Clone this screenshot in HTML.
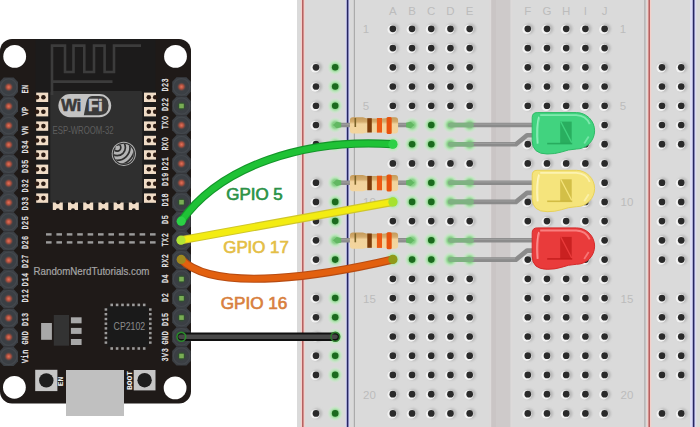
<!DOCTYPE html><html><head><meta charset="utf-8"><style>html,body{margin:0;padding:0;background:#fff;width:700px;height:427px;overflow:hidden}svg{display:block}</style></head><body>
<svg width="700" height="427" viewBox="0 0 700 427" font-family="'Liberation Sans', sans-serif">
<defs>
<linearGradient id="hr" x1="0" y1="0.65" x2="1" y2="0.35"><stop offset="0" stop-color="#ffffff"/><stop offset="0.35" stop-color="#f2f2f2"/><stop offset="0.62" stop-color="#cacaca"/><stop offset="1" stop-color="#ababab"/></linearGradient>
<radialGradient id="hf"><stop offset="0.55" stop-color="#dadada" stop-opacity="0"/><stop offset="1" stop-color="#dadada" stop-opacity="1"/></radialGradient>
<radialGradient id="gg"><stop offset="0.36" stop-color="#86d086"/><stop offset="0.62" stop-color="#b9e5b9" stop-opacity="0.95"/><stop offset="1" stop-color="#d2ecd2" stop-opacity="0"/></radialGradient>
<radialGradient id="pr"><stop offset="0" stop-color="#d87560"/><stop offset="0.3" stop-color="#c85a44"/><stop offset="0.6" stop-color="#86483e"/><stop offset="1" stop-color="#3f4548" stop-opacity="0"/></radialGradient>
<radialGradient id="pg"><stop offset="0.45" stop-color="#2a5326"/><stop offset="1" stop-color="#3b3f44" stop-opacity="0"/></radialGradient>
<filter id="soft" x="-20%" y="-20%" width="140%" height="140%"><feGaussianBlur stdDeviation="0.9"/></filter>
<filter id="soft3" x="-20%" y="-20%" width="140%" height="140%"><feGaussianBlur stdDeviation="0.75"/></filter>
<filter id="soft2" x="-20%" y="-20%" width="140%" height="140%"><feGaussianBlur stdDeviation="0.35"/></filter>
<linearGradient id="resg" x1="0" y1="0" x2="0" y2="1"><stop offset="0" stop-color="#c49a5a"/><stop offset="0.28" stop-color="#d4ac6e"/><stop offset="0.42" stop-color="#f2d39c"/><stop offset="1" stop-color="#f3d59e"/></linearGradient>
</defs>
<rect x="0" y="0" width="700" height="427" fill="#ffffff"/>
<rect x="297" y="0" width="403" height="427" fill="#dadada"/>
<rect x="489.4" y="0" width="23" height="427" fill="#dddada"/>
<rect x="491.4" y="0" width="19" height="427" fill="#cecaca"/>
<rect x="491.4" y="0" width="4.6" height="427" fill="#cac5c5"/>
<rect x="300.8" y="0" width="4" height="427" fill="#f3d0ca"/>
<rect x="302.05" y="0" width="1.5" height="427" fill="#b45c5c"/>
<rect x="647.2" y="0" width="4" height="427" fill="#f3d0ca"/>
<rect x="648.45" y="0" width="1.5" height="427" fill="#b45c5c"/>
<rect x="345.6" y="0" width="4" height="427" fill="#d8d8f6"/>
<rect x="690" y="0" width="6.3" height="427" fill="#dcdcf4"/>
<rect x="346.40000000000003" y="0" width="2.4" height="427" fill="#a8a8d8"/>
<rect x="346.90000000000003" y="0" width="1.4" height="427" fill="#262662"/>
<rect x="692.4" y="0" width="2.4" height="427" fill="#a8a8d8"/>
<rect x="692.9" y="0" width="1.4" height="427" fill="#262662"/>
<rect x="353.79999999999995" y="0" width="1.2" height="427" fill="#ababab"/>
<rect x="644.3" y="0" width="1.2" height="427" fill="#ababab"/>
<circle cx="431.3" cy="125.0" r="8.2" fill="url(#gg)"/><circle cx="431.3" cy="125.0" r="3.3" fill="#1b6a1e"/>
<circle cx="412.1" cy="144.2" r="8.2" fill="url(#gg)"/><circle cx="412.1" cy="144.2" r="3.3" fill="#1b6a1e"/>
<circle cx="431.3" cy="144.2" r="8.2" fill="url(#gg)"/><circle cx="431.3" cy="144.2" r="3.3" fill="#1b6a1e"/>
<circle cx="431.3" cy="182.7" r="8.2" fill="url(#gg)"/><circle cx="431.3" cy="182.7" r="3.3" fill="#1b6a1e"/>
<circle cx="412.1" cy="201.9" r="8.2" fill="url(#gg)"/><circle cx="412.1" cy="201.9" r="3.3" fill="#1b6a1e"/>
<circle cx="431.3" cy="201.9" r="8.2" fill="url(#gg)"/><circle cx="431.3" cy="201.9" r="3.3" fill="#1b6a1e"/>
<circle cx="431.3" cy="240.3" r="8.2" fill="url(#gg)"/><circle cx="431.3" cy="240.3" r="3.3" fill="#1b6a1e"/>
<circle cx="412.1" cy="259.6" r="8.2" fill="url(#gg)"/><circle cx="412.1" cy="259.6" r="3.3" fill="#1b6a1e"/>
<circle cx="431.3" cy="259.6" r="8.2" fill="url(#gg)"/><circle cx="431.3" cy="259.6" r="3.3" fill="#1b6a1e"/>
<circle cx="335.2" cy="67.3" r="8.2" fill="url(#gg)"/><circle cx="335.2" cy="67.3" r="3.3" fill="#1b6a1e"/>
<circle cx="335.2" cy="86.5" r="8.2" fill="url(#gg)"/><circle cx="335.2" cy="86.5" r="3.3" fill="#1b6a1e"/>
<circle cx="335.2" cy="105.8" r="8.2" fill="url(#gg)"/><circle cx="335.2" cy="105.8" r="3.3" fill="#1b6a1e"/>
<circle cx="335.2" cy="201.9" r="8.2" fill="url(#gg)"/><circle cx="335.2" cy="201.9" r="3.3" fill="#1b6a1e"/>
<circle cx="335.2" cy="221.1" r="8.2" fill="url(#gg)"/><circle cx="335.2" cy="221.1" r="3.3" fill="#1b6a1e"/>
<circle cx="335.2" cy="259.6" r="8.2" fill="url(#gg)"/><circle cx="335.2" cy="259.6" r="3.3" fill="#1b6a1e"/>
<circle cx="335.2" cy="298.0" r="8.2" fill="url(#gg)"/><circle cx="335.2" cy="298.0" r="3.3" fill="#1b6a1e"/>
<circle cx="335.2" cy="317.3" r="8.2" fill="url(#gg)"/><circle cx="335.2" cy="317.3" r="3.3" fill="#1b6a1e"/>
<circle cx="335.2" cy="355.7" r="8.2" fill="url(#gg)"/><circle cx="335.2" cy="355.7" r="3.3" fill="#1b6a1e"/>
<circle cx="335.2" cy="374.9" r="8.2" fill="url(#gg)"/><circle cx="335.2" cy="374.9" r="3.3" fill="#1b6a1e"/>
<circle cx="335.2" cy="413.4" r="8.2" fill="url(#gg)"/><circle cx="335.2" cy="413.4" r="3.3" fill="#1b6a1e"/>
<circle cx="335.2" cy="144.2" r="8.2" fill="url(#gg)"/><circle cx="335.2" cy="144.2" r="3.3" fill="#1b6a1e"/>
<circle cx="335.2" cy="336.5" r="8.2" fill="url(#gg)"/>
<g fill="#bababa" filter="url(#soft)"><circle cx="394.0" cy="28.8" r="5.2"/><circle cx="413.2" cy="28.8" r="5.2"/><circle cx="432.4" cy="28.8" r="5.2"/><circle cx="451.6" cy="28.8" r="5.2"/><circle cx="470.8" cy="28.8" r="5.2"/><circle cx="528.9" cy="28.8" r="5.2"/><circle cx="548.1" cy="28.8" r="5.2"/><circle cx="567.3" cy="28.8" r="5.2"/><circle cx="586.5" cy="28.8" r="5.2"/><circle cx="605.7" cy="28.8" r="5.2"/><circle cx="394.0" cy="48.1" r="5.2"/><circle cx="413.2" cy="48.1" r="5.2"/><circle cx="432.4" cy="48.1" r="5.2"/><circle cx="451.6" cy="48.1" r="5.2"/><circle cx="470.8" cy="48.1" r="5.2"/><circle cx="528.9" cy="48.1" r="5.2"/><circle cx="548.1" cy="48.1" r="5.2"/><circle cx="567.3" cy="48.1" r="5.2"/><circle cx="586.5" cy="48.1" r="5.2"/><circle cx="605.7" cy="48.1" r="5.2"/><circle cx="394.0" cy="67.3" r="5.2"/><circle cx="413.2" cy="67.3" r="5.2"/><circle cx="432.4" cy="67.3" r="5.2"/><circle cx="451.6" cy="67.3" r="5.2"/><circle cx="470.8" cy="67.3" r="5.2"/><circle cx="528.9" cy="67.3" r="5.2"/><circle cx="548.1" cy="67.3" r="5.2"/><circle cx="567.3" cy="67.3" r="5.2"/><circle cx="586.5" cy="67.3" r="5.2"/><circle cx="605.7" cy="67.3" r="5.2"/><circle cx="394.0" cy="86.5" r="5.2"/><circle cx="413.2" cy="86.5" r="5.2"/><circle cx="432.4" cy="86.5" r="5.2"/><circle cx="451.6" cy="86.5" r="5.2"/><circle cx="470.8" cy="86.5" r="5.2"/><circle cx="528.9" cy="86.5" r="5.2"/><circle cx="548.1" cy="86.5" r="5.2"/><circle cx="567.3" cy="86.5" r="5.2"/><circle cx="586.5" cy="86.5" r="5.2"/><circle cx="605.7" cy="86.5" r="5.2"/><circle cx="394.0" cy="105.8" r="5.2"/><circle cx="413.2" cy="105.8" r="5.2"/><circle cx="432.4" cy="105.8" r="5.2"/><circle cx="451.6" cy="105.8" r="5.2"/><circle cx="470.8" cy="105.8" r="5.2"/><circle cx="528.9" cy="105.8" r="5.2"/><circle cx="548.1" cy="105.8" r="5.2"/><circle cx="567.3" cy="105.8" r="5.2"/><circle cx="586.5" cy="105.8" r="5.2"/><circle cx="605.7" cy="105.8" r="5.2"/><circle cx="548.1" cy="125.0" r="5.2"/><circle cx="567.3" cy="125.0" r="5.2"/><circle cx="586.5" cy="125.0" r="5.2"/><circle cx="605.7" cy="125.0" r="5.2"/><circle cx="528.9" cy="144.2" r="5.2"/><circle cx="548.1" cy="144.2" r="5.2"/><circle cx="567.3" cy="144.2" r="5.2"/><circle cx="586.5" cy="144.2" r="5.2"/><circle cx="605.7" cy="144.2" r="5.2"/><circle cx="394.0" cy="163.4" r="5.2"/><circle cx="413.2" cy="163.4" r="5.2"/><circle cx="432.4" cy="163.4" r="5.2"/><circle cx="451.6" cy="163.4" r="5.2"/><circle cx="470.8" cy="163.4" r="5.2"/><circle cx="528.9" cy="163.4" r="5.2"/><circle cx="548.1" cy="163.4" r="5.2"/><circle cx="567.3" cy="163.4" r="5.2"/><circle cx="586.5" cy="163.4" r="5.2"/><circle cx="605.7" cy="163.4" r="5.2"/><circle cx="548.1" cy="182.7" r="5.2"/><circle cx="567.3" cy="182.7" r="5.2"/><circle cx="586.5" cy="182.7" r="5.2"/><circle cx="605.7" cy="182.7" r="5.2"/><circle cx="528.9" cy="201.9" r="5.2"/><circle cx="548.1" cy="201.9" r="5.2"/><circle cx="567.3" cy="201.9" r="5.2"/><circle cx="586.5" cy="201.9" r="5.2"/><circle cx="605.7" cy="201.9" r="5.2"/><circle cx="394.0" cy="221.1" r="5.2"/><circle cx="413.2" cy="221.1" r="5.2"/><circle cx="432.4" cy="221.1" r="5.2"/><circle cx="451.6" cy="221.1" r="5.2"/><circle cx="470.8" cy="221.1" r="5.2"/><circle cx="528.9" cy="221.1" r="5.2"/><circle cx="548.1" cy="221.1" r="5.2"/><circle cx="567.3" cy="221.1" r="5.2"/><circle cx="586.5" cy="221.1" r="5.2"/><circle cx="605.7" cy="221.1" r="5.2"/><circle cx="548.1" cy="240.3" r="5.2"/><circle cx="567.3" cy="240.3" r="5.2"/><circle cx="586.5" cy="240.3" r="5.2"/><circle cx="605.7" cy="240.3" r="5.2"/><circle cx="528.9" cy="259.6" r="5.2"/><circle cx="548.1" cy="259.6" r="5.2"/><circle cx="567.3" cy="259.6" r="5.2"/><circle cx="586.5" cy="259.6" r="5.2"/><circle cx="605.7" cy="259.6" r="5.2"/><circle cx="394.0" cy="278.8" r="5.2"/><circle cx="413.2" cy="278.8" r="5.2"/><circle cx="432.4" cy="278.8" r="5.2"/><circle cx="451.6" cy="278.8" r="5.2"/><circle cx="470.8" cy="278.8" r="5.2"/><circle cx="528.9" cy="278.8" r="5.2"/><circle cx="548.1" cy="278.8" r="5.2"/><circle cx="567.3" cy="278.8" r="5.2"/><circle cx="586.5" cy="278.8" r="5.2"/><circle cx="605.7" cy="278.8" r="5.2"/><circle cx="394.0" cy="298.0" r="5.2"/><circle cx="413.2" cy="298.0" r="5.2"/><circle cx="432.4" cy="298.0" r="5.2"/><circle cx="451.6" cy="298.0" r="5.2"/><circle cx="470.8" cy="298.0" r="5.2"/><circle cx="528.9" cy="298.0" r="5.2"/><circle cx="548.1" cy="298.0" r="5.2"/><circle cx="567.3" cy="298.0" r="5.2"/><circle cx="586.5" cy="298.0" r="5.2"/><circle cx="605.7" cy="298.0" r="5.2"/><circle cx="394.0" cy="317.3" r="5.2"/><circle cx="413.2" cy="317.3" r="5.2"/><circle cx="432.4" cy="317.3" r="5.2"/><circle cx="451.6" cy="317.3" r="5.2"/><circle cx="470.8" cy="317.3" r="5.2"/><circle cx="528.9" cy="317.3" r="5.2"/><circle cx="548.1" cy="317.3" r="5.2"/><circle cx="567.3" cy="317.3" r="5.2"/><circle cx="586.5" cy="317.3" r="5.2"/><circle cx="605.7" cy="317.3" r="5.2"/><circle cx="394.0" cy="336.5" r="5.2"/><circle cx="413.2" cy="336.5" r="5.2"/><circle cx="432.4" cy="336.5" r="5.2"/><circle cx="451.6" cy="336.5" r="5.2"/><circle cx="470.8" cy="336.5" r="5.2"/><circle cx="528.9" cy="336.5" r="5.2"/><circle cx="548.1" cy="336.5" r="5.2"/><circle cx="567.3" cy="336.5" r="5.2"/><circle cx="586.5" cy="336.5" r="5.2"/><circle cx="605.7" cy="336.5" r="5.2"/><circle cx="394.0" cy="355.7" r="5.2"/><circle cx="413.2" cy="355.7" r="5.2"/><circle cx="432.4" cy="355.7" r="5.2"/><circle cx="451.6" cy="355.7" r="5.2"/><circle cx="470.8" cy="355.7" r="5.2"/><circle cx="528.9" cy="355.7" r="5.2"/><circle cx="548.1" cy="355.7" r="5.2"/><circle cx="567.3" cy="355.7" r="5.2"/><circle cx="586.5" cy="355.7" r="5.2"/><circle cx="605.7" cy="355.7" r="5.2"/><circle cx="394.0" cy="374.9" r="5.2"/><circle cx="413.2" cy="374.9" r="5.2"/><circle cx="432.4" cy="374.9" r="5.2"/><circle cx="451.6" cy="374.9" r="5.2"/><circle cx="470.8" cy="374.9" r="5.2"/><circle cx="528.9" cy="374.9" r="5.2"/><circle cx="548.1" cy="374.9" r="5.2"/><circle cx="567.3" cy="374.9" r="5.2"/><circle cx="586.5" cy="374.9" r="5.2"/><circle cx="605.7" cy="374.9" r="5.2"/><circle cx="394.0" cy="394.2" r="5.2"/><circle cx="413.2" cy="394.2" r="5.2"/><circle cx="432.4" cy="394.2" r="5.2"/><circle cx="451.6" cy="394.2" r="5.2"/><circle cx="470.8" cy="394.2" r="5.2"/><circle cx="528.9" cy="394.2" r="5.2"/><circle cx="548.1" cy="394.2" r="5.2"/><circle cx="567.3" cy="394.2" r="5.2"/><circle cx="586.5" cy="394.2" r="5.2"/><circle cx="605.7" cy="394.2" r="5.2"/><circle cx="394.0" cy="413.4" r="5.2"/><circle cx="413.2" cy="413.4" r="5.2"/><circle cx="432.4" cy="413.4" r="5.2"/><circle cx="451.6" cy="413.4" r="5.2"/><circle cx="470.8" cy="413.4" r="5.2"/><circle cx="528.9" cy="413.4" r="5.2"/><circle cx="548.1" cy="413.4" r="5.2"/><circle cx="567.3" cy="413.4" r="5.2"/><circle cx="586.5" cy="413.4" r="5.2"/><circle cx="605.7" cy="413.4" r="5.2"/><circle cx="317.1" cy="67.3" r="5.2"/><circle cx="663.1" cy="67.3" r="5.2"/><circle cx="682.4" cy="67.3" r="5.2"/><circle cx="317.1" cy="86.5" r="5.2"/><circle cx="663.1" cy="86.5" r="5.2"/><circle cx="682.4" cy="86.5" r="5.2"/><circle cx="317.1" cy="105.8" r="5.2"/><circle cx="663.1" cy="105.8" r="5.2"/><circle cx="682.4" cy="105.8" r="5.2"/><circle cx="317.1" cy="125.0" r="5.2"/><circle cx="663.1" cy="125.0" r="5.2"/><circle cx="682.4" cy="125.0" r="5.2"/><circle cx="317.1" cy="144.2" r="5.2"/><circle cx="663.1" cy="144.2" r="5.2"/><circle cx="682.4" cy="144.2" r="5.2"/><circle cx="317.1" cy="182.7" r="5.2"/><circle cx="663.1" cy="182.7" r="5.2"/><circle cx="682.4" cy="182.7" r="5.2"/><circle cx="317.1" cy="201.9" r="5.2"/><circle cx="663.1" cy="201.9" r="5.2"/><circle cx="682.4" cy="201.9" r="5.2"/><circle cx="317.1" cy="221.1" r="5.2"/><circle cx="663.1" cy="221.1" r="5.2"/><circle cx="682.4" cy="221.1" r="5.2"/><circle cx="317.1" cy="240.3" r="5.2"/><circle cx="663.1" cy="240.3" r="5.2"/><circle cx="682.4" cy="240.3" r="5.2"/><circle cx="317.1" cy="259.6" r="5.2"/><circle cx="663.1" cy="259.6" r="5.2"/><circle cx="682.4" cy="259.6" r="5.2"/><circle cx="317.1" cy="298.0" r="5.2"/><circle cx="663.1" cy="298.0" r="5.2"/><circle cx="682.4" cy="298.0" r="5.2"/><circle cx="317.1" cy="317.3" r="5.2"/><circle cx="663.1" cy="317.3" r="5.2"/><circle cx="682.4" cy="317.3" r="5.2"/><circle cx="317.1" cy="336.5" r="5.2"/><circle cx="663.1" cy="336.5" r="5.2"/><circle cx="682.4" cy="336.5" r="5.2"/><circle cx="317.1" cy="355.7" r="5.2"/><circle cx="663.1" cy="355.7" r="5.2"/><circle cx="682.4" cy="355.7" r="5.2"/><circle cx="317.1" cy="374.9" r="5.2"/><circle cx="663.1" cy="374.9" r="5.2"/><circle cx="682.4" cy="374.9" r="5.2"/><circle cx="317.1" cy="413.4" r="5.2"/><circle cx="663.1" cy="413.4" r="5.2"/><circle cx="682.4" cy="413.4" r="5.2"/></g>
<g fill="#f3f3f3" filter="url(#soft3)"><circle cx="392.0" cy="29.4" r="4.6"/><circle cx="411.2" cy="29.4" r="4.6"/><circle cx="430.4" cy="29.4" r="4.6"/><circle cx="449.6" cy="29.4" r="4.6"/><circle cx="468.8" cy="29.4" r="4.6"/><circle cx="526.9" cy="29.4" r="4.6"/><circle cx="546.1" cy="29.4" r="4.6"/><circle cx="565.3" cy="29.4" r="4.6"/><circle cx="584.5" cy="29.4" r="4.6"/><circle cx="603.7" cy="29.4" r="4.6"/><circle cx="392.0" cy="48.7" r="4.6"/><circle cx="411.2" cy="48.7" r="4.6"/><circle cx="430.4" cy="48.7" r="4.6"/><circle cx="449.6" cy="48.7" r="4.6"/><circle cx="468.8" cy="48.7" r="4.6"/><circle cx="526.9" cy="48.7" r="4.6"/><circle cx="546.1" cy="48.7" r="4.6"/><circle cx="565.3" cy="48.7" r="4.6"/><circle cx="584.5" cy="48.7" r="4.6"/><circle cx="603.7" cy="48.7" r="4.6"/><circle cx="392.0" cy="67.9" r="4.6"/><circle cx="411.2" cy="67.9" r="4.6"/><circle cx="430.4" cy="67.9" r="4.6"/><circle cx="449.6" cy="67.9" r="4.6"/><circle cx="468.8" cy="67.9" r="4.6"/><circle cx="526.9" cy="67.9" r="4.6"/><circle cx="546.1" cy="67.9" r="4.6"/><circle cx="565.3" cy="67.9" r="4.6"/><circle cx="584.5" cy="67.9" r="4.6"/><circle cx="603.7" cy="67.9" r="4.6"/><circle cx="392.0" cy="87.1" r="4.6"/><circle cx="411.2" cy="87.1" r="4.6"/><circle cx="430.4" cy="87.1" r="4.6"/><circle cx="449.6" cy="87.1" r="4.6"/><circle cx="468.8" cy="87.1" r="4.6"/><circle cx="526.9" cy="87.1" r="4.6"/><circle cx="546.1" cy="87.1" r="4.6"/><circle cx="565.3" cy="87.1" r="4.6"/><circle cx="584.5" cy="87.1" r="4.6"/><circle cx="603.7" cy="87.1" r="4.6"/><circle cx="392.0" cy="106.4" r="4.6"/><circle cx="411.2" cy="106.4" r="4.6"/><circle cx="430.4" cy="106.4" r="4.6"/><circle cx="449.6" cy="106.4" r="4.6"/><circle cx="468.8" cy="106.4" r="4.6"/><circle cx="526.9" cy="106.4" r="4.6"/><circle cx="546.1" cy="106.4" r="4.6"/><circle cx="565.3" cy="106.4" r="4.6"/><circle cx="584.5" cy="106.4" r="4.6"/><circle cx="603.7" cy="106.4" r="4.6"/><circle cx="546.1" cy="125.6" r="4.6"/><circle cx="565.3" cy="125.6" r="4.6"/><circle cx="584.5" cy="125.6" r="4.6"/><circle cx="603.7" cy="125.6" r="4.6"/><circle cx="526.9" cy="144.8" r="4.6"/><circle cx="546.1" cy="144.8" r="4.6"/><circle cx="565.3" cy="144.8" r="4.6"/><circle cx="584.5" cy="144.8" r="4.6"/><circle cx="603.7" cy="144.8" r="4.6"/><circle cx="392.0" cy="164.0" r="4.6"/><circle cx="411.2" cy="164.0" r="4.6"/><circle cx="430.4" cy="164.0" r="4.6"/><circle cx="449.6" cy="164.0" r="4.6"/><circle cx="468.8" cy="164.0" r="4.6"/><circle cx="526.9" cy="164.0" r="4.6"/><circle cx="546.1" cy="164.0" r="4.6"/><circle cx="565.3" cy="164.0" r="4.6"/><circle cx="584.5" cy="164.0" r="4.6"/><circle cx="603.7" cy="164.0" r="4.6"/><circle cx="546.1" cy="183.3" r="4.6"/><circle cx="565.3" cy="183.3" r="4.6"/><circle cx="584.5" cy="183.3" r="4.6"/><circle cx="603.7" cy="183.3" r="4.6"/><circle cx="526.9" cy="202.5" r="4.6"/><circle cx="546.1" cy="202.5" r="4.6"/><circle cx="565.3" cy="202.5" r="4.6"/><circle cx="584.5" cy="202.5" r="4.6"/><circle cx="603.7" cy="202.5" r="4.6"/><circle cx="392.0" cy="221.7" r="4.6"/><circle cx="411.2" cy="221.7" r="4.6"/><circle cx="430.4" cy="221.7" r="4.6"/><circle cx="449.6" cy="221.7" r="4.6"/><circle cx="468.8" cy="221.7" r="4.6"/><circle cx="526.9" cy="221.7" r="4.6"/><circle cx="546.1" cy="221.7" r="4.6"/><circle cx="565.3" cy="221.7" r="4.6"/><circle cx="584.5" cy="221.7" r="4.6"/><circle cx="603.7" cy="221.7" r="4.6"/><circle cx="546.1" cy="240.9" r="4.6"/><circle cx="565.3" cy="240.9" r="4.6"/><circle cx="584.5" cy="240.9" r="4.6"/><circle cx="603.7" cy="240.9" r="4.6"/><circle cx="526.9" cy="260.2" r="4.6"/><circle cx="546.1" cy="260.2" r="4.6"/><circle cx="565.3" cy="260.2" r="4.6"/><circle cx="584.5" cy="260.2" r="4.6"/><circle cx="603.7" cy="260.2" r="4.6"/><circle cx="392.0" cy="279.4" r="4.6"/><circle cx="411.2" cy="279.4" r="4.6"/><circle cx="430.4" cy="279.4" r="4.6"/><circle cx="449.6" cy="279.4" r="4.6"/><circle cx="468.8" cy="279.4" r="4.6"/><circle cx="526.9" cy="279.4" r="4.6"/><circle cx="546.1" cy="279.4" r="4.6"/><circle cx="565.3" cy="279.4" r="4.6"/><circle cx="584.5" cy="279.4" r="4.6"/><circle cx="603.7" cy="279.4" r="4.6"/><circle cx="392.0" cy="298.6" r="4.6"/><circle cx="411.2" cy="298.6" r="4.6"/><circle cx="430.4" cy="298.6" r="4.6"/><circle cx="449.6" cy="298.6" r="4.6"/><circle cx="468.8" cy="298.6" r="4.6"/><circle cx="526.9" cy="298.6" r="4.6"/><circle cx="546.1" cy="298.6" r="4.6"/><circle cx="565.3" cy="298.6" r="4.6"/><circle cx="584.5" cy="298.6" r="4.6"/><circle cx="603.7" cy="298.6" r="4.6"/><circle cx="392.0" cy="317.9" r="4.6"/><circle cx="411.2" cy="317.9" r="4.6"/><circle cx="430.4" cy="317.9" r="4.6"/><circle cx="449.6" cy="317.9" r="4.6"/><circle cx="468.8" cy="317.9" r="4.6"/><circle cx="526.9" cy="317.9" r="4.6"/><circle cx="546.1" cy="317.9" r="4.6"/><circle cx="565.3" cy="317.9" r="4.6"/><circle cx="584.5" cy="317.9" r="4.6"/><circle cx="603.7" cy="317.9" r="4.6"/><circle cx="392.0" cy="337.1" r="4.6"/><circle cx="411.2" cy="337.1" r="4.6"/><circle cx="430.4" cy="337.1" r="4.6"/><circle cx="449.6" cy="337.1" r="4.6"/><circle cx="468.8" cy="337.1" r="4.6"/><circle cx="526.9" cy="337.1" r="4.6"/><circle cx="546.1" cy="337.1" r="4.6"/><circle cx="565.3" cy="337.1" r="4.6"/><circle cx="584.5" cy="337.1" r="4.6"/><circle cx="603.7" cy="337.1" r="4.6"/><circle cx="392.0" cy="356.3" r="4.6"/><circle cx="411.2" cy="356.3" r="4.6"/><circle cx="430.4" cy="356.3" r="4.6"/><circle cx="449.6" cy="356.3" r="4.6"/><circle cx="468.8" cy="356.3" r="4.6"/><circle cx="526.9" cy="356.3" r="4.6"/><circle cx="546.1" cy="356.3" r="4.6"/><circle cx="565.3" cy="356.3" r="4.6"/><circle cx="584.5" cy="356.3" r="4.6"/><circle cx="603.7" cy="356.3" r="4.6"/><circle cx="392.0" cy="375.5" r="4.6"/><circle cx="411.2" cy="375.5" r="4.6"/><circle cx="430.4" cy="375.5" r="4.6"/><circle cx="449.6" cy="375.5" r="4.6"/><circle cx="468.8" cy="375.5" r="4.6"/><circle cx="526.9" cy="375.5" r="4.6"/><circle cx="546.1" cy="375.5" r="4.6"/><circle cx="565.3" cy="375.5" r="4.6"/><circle cx="584.5" cy="375.5" r="4.6"/><circle cx="603.7" cy="375.5" r="4.6"/><circle cx="392.0" cy="394.8" r="4.6"/><circle cx="411.2" cy="394.8" r="4.6"/><circle cx="430.4" cy="394.8" r="4.6"/><circle cx="449.6" cy="394.8" r="4.6"/><circle cx="468.8" cy="394.8" r="4.6"/><circle cx="526.9" cy="394.8" r="4.6"/><circle cx="546.1" cy="394.8" r="4.6"/><circle cx="565.3" cy="394.8" r="4.6"/><circle cx="584.5" cy="394.8" r="4.6"/><circle cx="603.7" cy="394.8" r="4.6"/><circle cx="392.0" cy="414.0" r="4.6"/><circle cx="411.2" cy="414.0" r="4.6"/><circle cx="430.4" cy="414.0" r="4.6"/><circle cx="449.6" cy="414.0" r="4.6"/><circle cx="468.8" cy="414.0" r="4.6"/><circle cx="526.9" cy="414.0" r="4.6"/><circle cx="546.1" cy="414.0" r="4.6"/><circle cx="565.3" cy="414.0" r="4.6"/><circle cx="584.5" cy="414.0" r="4.6"/><circle cx="603.7" cy="414.0" r="4.6"/><circle cx="315.1" cy="67.9" r="4.6"/><circle cx="661.1" cy="67.9" r="4.6"/><circle cx="680.4" cy="67.9" r="4.6"/><circle cx="315.1" cy="87.1" r="4.6"/><circle cx="661.1" cy="87.1" r="4.6"/><circle cx="680.4" cy="87.1" r="4.6"/><circle cx="315.1" cy="106.4" r="4.6"/><circle cx="661.1" cy="106.4" r="4.6"/><circle cx="680.4" cy="106.4" r="4.6"/><circle cx="315.1" cy="125.6" r="4.6"/><circle cx="661.1" cy="125.6" r="4.6"/><circle cx="680.4" cy="125.6" r="4.6"/><circle cx="315.1" cy="144.8" r="4.6"/><circle cx="661.1" cy="144.8" r="4.6"/><circle cx="680.4" cy="144.8" r="4.6"/><circle cx="315.1" cy="183.3" r="4.6"/><circle cx="661.1" cy="183.3" r="4.6"/><circle cx="680.4" cy="183.3" r="4.6"/><circle cx="315.1" cy="202.5" r="4.6"/><circle cx="661.1" cy="202.5" r="4.6"/><circle cx="680.4" cy="202.5" r="4.6"/><circle cx="315.1" cy="221.7" r="4.6"/><circle cx="661.1" cy="221.7" r="4.6"/><circle cx="680.4" cy="221.7" r="4.6"/><circle cx="315.1" cy="240.9" r="4.6"/><circle cx="661.1" cy="240.9" r="4.6"/><circle cx="680.4" cy="240.9" r="4.6"/><circle cx="315.1" cy="260.2" r="4.6"/><circle cx="661.1" cy="260.2" r="4.6"/><circle cx="680.4" cy="260.2" r="4.6"/><circle cx="315.1" cy="298.6" r="4.6"/><circle cx="661.1" cy="298.6" r="4.6"/><circle cx="680.4" cy="298.6" r="4.6"/><circle cx="315.1" cy="317.9" r="4.6"/><circle cx="661.1" cy="317.9" r="4.6"/><circle cx="680.4" cy="317.9" r="4.6"/><circle cx="315.1" cy="337.1" r="4.6"/><circle cx="661.1" cy="337.1" r="4.6"/><circle cx="680.4" cy="337.1" r="4.6"/><circle cx="315.1" cy="356.3" r="4.6"/><circle cx="661.1" cy="356.3" r="4.6"/><circle cx="680.4" cy="356.3" r="4.6"/><circle cx="315.1" cy="375.5" r="4.6"/><circle cx="661.1" cy="375.5" r="4.6"/><circle cx="680.4" cy="375.5" r="4.6"/><circle cx="315.1" cy="414.0" r="4.6"/><circle cx="661.1" cy="414.0" r="4.6"/><circle cx="680.4" cy="414.0" r="4.6"/></g>
<g fill="#2c2c2c" filter="url(#soft2)"><circle cx="392.85" cy="28.84" r="3.35"/><circle cx="412.06" cy="28.84" r="3.35"/><circle cx="431.27" cy="28.84" r="3.35"/><circle cx="450.48" cy="28.84" r="3.35"/><circle cx="469.69" cy="28.84" r="3.35"/><circle cx="527.80" cy="28.84" r="3.35"/><circle cx="547.01" cy="28.84" r="3.35"/><circle cx="566.22" cy="28.84" r="3.35"/><circle cx="585.43" cy="28.84" r="3.35"/><circle cx="604.64" cy="28.84" r="3.35"/><circle cx="392.85" cy="48.07" r="3.35"/><circle cx="412.06" cy="48.07" r="3.35"/><circle cx="431.27" cy="48.07" r="3.35"/><circle cx="450.48" cy="48.07" r="3.35"/><circle cx="469.69" cy="48.07" r="3.35"/><circle cx="527.80" cy="48.07" r="3.35"/><circle cx="547.01" cy="48.07" r="3.35"/><circle cx="566.22" cy="48.07" r="3.35"/><circle cx="585.43" cy="48.07" r="3.35"/><circle cx="604.64" cy="48.07" r="3.35"/><circle cx="392.85" cy="67.30" r="3.35"/><circle cx="412.06" cy="67.30" r="3.35"/><circle cx="431.27" cy="67.30" r="3.35"/><circle cx="450.48" cy="67.30" r="3.35"/><circle cx="469.69" cy="67.30" r="3.35"/><circle cx="527.80" cy="67.30" r="3.35"/><circle cx="547.01" cy="67.30" r="3.35"/><circle cx="566.22" cy="67.30" r="3.35"/><circle cx="585.43" cy="67.30" r="3.35"/><circle cx="604.64" cy="67.30" r="3.35"/><circle cx="392.85" cy="86.52" r="3.35"/><circle cx="412.06" cy="86.52" r="3.35"/><circle cx="431.27" cy="86.52" r="3.35"/><circle cx="450.48" cy="86.52" r="3.35"/><circle cx="469.69" cy="86.52" r="3.35"/><circle cx="527.80" cy="86.52" r="3.35"/><circle cx="547.01" cy="86.52" r="3.35"/><circle cx="566.22" cy="86.52" r="3.35"/><circle cx="585.43" cy="86.52" r="3.35"/><circle cx="604.64" cy="86.52" r="3.35"/><circle cx="392.85" cy="105.75" r="3.35"/><circle cx="412.06" cy="105.75" r="3.35"/><circle cx="431.27" cy="105.75" r="3.35"/><circle cx="450.48" cy="105.75" r="3.35"/><circle cx="469.69" cy="105.75" r="3.35"/><circle cx="527.80" cy="105.75" r="3.35"/><circle cx="547.01" cy="105.75" r="3.35"/><circle cx="566.22" cy="105.75" r="3.35"/><circle cx="585.43" cy="105.75" r="3.35"/><circle cx="604.64" cy="105.75" r="3.35"/><circle cx="547.01" cy="124.98" r="3.35"/><circle cx="566.22" cy="124.98" r="3.35"/><circle cx="585.43" cy="124.98" r="3.35"/><circle cx="604.64" cy="124.98" r="3.35"/><circle cx="527.80" cy="144.21" r="3.35"/><circle cx="547.01" cy="144.21" r="3.35"/><circle cx="566.22" cy="144.21" r="3.35"/><circle cx="585.43" cy="144.21" r="3.35"/><circle cx="604.64" cy="144.21" r="3.35"/><circle cx="392.85" cy="163.44" r="3.35"/><circle cx="412.06" cy="163.44" r="3.35"/><circle cx="431.27" cy="163.44" r="3.35"/><circle cx="450.48" cy="163.44" r="3.35"/><circle cx="469.69" cy="163.44" r="3.35"/><circle cx="527.80" cy="163.44" r="3.35"/><circle cx="547.01" cy="163.44" r="3.35"/><circle cx="566.22" cy="163.44" r="3.35"/><circle cx="585.43" cy="163.44" r="3.35"/><circle cx="604.64" cy="163.44" r="3.35"/><circle cx="547.01" cy="182.66" r="3.35"/><circle cx="566.22" cy="182.66" r="3.35"/><circle cx="585.43" cy="182.66" r="3.35"/><circle cx="604.64" cy="182.66" r="3.35"/><circle cx="527.80" cy="201.89" r="3.35"/><circle cx="547.01" cy="201.89" r="3.35"/><circle cx="566.22" cy="201.89" r="3.35"/><circle cx="585.43" cy="201.89" r="3.35"/><circle cx="604.64" cy="201.89" r="3.35"/><circle cx="392.85" cy="221.12" r="3.35"/><circle cx="412.06" cy="221.12" r="3.35"/><circle cx="431.27" cy="221.12" r="3.35"/><circle cx="450.48" cy="221.12" r="3.35"/><circle cx="469.69" cy="221.12" r="3.35"/><circle cx="527.80" cy="221.12" r="3.35"/><circle cx="547.01" cy="221.12" r="3.35"/><circle cx="566.22" cy="221.12" r="3.35"/><circle cx="585.43" cy="221.12" r="3.35"/><circle cx="604.64" cy="221.12" r="3.35"/><circle cx="547.01" cy="240.35" r="3.35"/><circle cx="566.22" cy="240.35" r="3.35"/><circle cx="585.43" cy="240.35" r="3.35"/><circle cx="604.64" cy="240.35" r="3.35"/><circle cx="527.80" cy="259.58" r="3.35"/><circle cx="547.01" cy="259.58" r="3.35"/><circle cx="566.22" cy="259.58" r="3.35"/><circle cx="585.43" cy="259.58" r="3.35"/><circle cx="604.64" cy="259.58" r="3.35"/><circle cx="392.85" cy="278.80" r="3.35"/><circle cx="412.06" cy="278.80" r="3.35"/><circle cx="431.27" cy="278.80" r="3.35"/><circle cx="450.48" cy="278.80" r="3.35"/><circle cx="469.69" cy="278.80" r="3.35"/><circle cx="527.80" cy="278.80" r="3.35"/><circle cx="547.01" cy="278.80" r="3.35"/><circle cx="566.22" cy="278.80" r="3.35"/><circle cx="585.43" cy="278.80" r="3.35"/><circle cx="604.64" cy="278.80" r="3.35"/><circle cx="392.85" cy="298.03" r="3.35"/><circle cx="412.06" cy="298.03" r="3.35"/><circle cx="431.27" cy="298.03" r="3.35"/><circle cx="450.48" cy="298.03" r="3.35"/><circle cx="469.69" cy="298.03" r="3.35"/><circle cx="527.80" cy="298.03" r="3.35"/><circle cx="547.01" cy="298.03" r="3.35"/><circle cx="566.22" cy="298.03" r="3.35"/><circle cx="585.43" cy="298.03" r="3.35"/><circle cx="604.64" cy="298.03" r="3.35"/><circle cx="392.85" cy="317.26" r="3.35"/><circle cx="412.06" cy="317.26" r="3.35"/><circle cx="431.27" cy="317.26" r="3.35"/><circle cx="450.48" cy="317.26" r="3.35"/><circle cx="469.69" cy="317.26" r="3.35"/><circle cx="527.80" cy="317.26" r="3.35"/><circle cx="547.01" cy="317.26" r="3.35"/><circle cx="566.22" cy="317.26" r="3.35"/><circle cx="585.43" cy="317.26" r="3.35"/><circle cx="604.64" cy="317.26" r="3.35"/><circle cx="392.85" cy="336.49" r="3.35"/><circle cx="412.06" cy="336.49" r="3.35"/><circle cx="431.27" cy="336.49" r="3.35"/><circle cx="450.48" cy="336.49" r="3.35"/><circle cx="469.69" cy="336.49" r="3.35"/><circle cx="527.80" cy="336.49" r="3.35"/><circle cx="547.01" cy="336.49" r="3.35"/><circle cx="566.22" cy="336.49" r="3.35"/><circle cx="585.43" cy="336.49" r="3.35"/><circle cx="604.64" cy="336.49" r="3.35"/><circle cx="392.85" cy="355.72" r="3.35"/><circle cx="412.06" cy="355.72" r="3.35"/><circle cx="431.27" cy="355.72" r="3.35"/><circle cx="450.48" cy="355.72" r="3.35"/><circle cx="469.69" cy="355.72" r="3.35"/><circle cx="527.80" cy="355.72" r="3.35"/><circle cx="547.01" cy="355.72" r="3.35"/><circle cx="566.22" cy="355.72" r="3.35"/><circle cx="585.43" cy="355.72" r="3.35"/><circle cx="604.64" cy="355.72" r="3.35"/><circle cx="392.85" cy="374.94" r="3.35"/><circle cx="412.06" cy="374.94" r="3.35"/><circle cx="431.27" cy="374.94" r="3.35"/><circle cx="450.48" cy="374.94" r="3.35"/><circle cx="469.69" cy="374.94" r="3.35"/><circle cx="527.80" cy="374.94" r="3.35"/><circle cx="547.01" cy="374.94" r="3.35"/><circle cx="566.22" cy="374.94" r="3.35"/><circle cx="585.43" cy="374.94" r="3.35"/><circle cx="604.64" cy="374.94" r="3.35"/><circle cx="392.85" cy="394.17" r="3.35"/><circle cx="412.06" cy="394.17" r="3.35"/><circle cx="431.27" cy="394.17" r="3.35"/><circle cx="450.48" cy="394.17" r="3.35"/><circle cx="469.69" cy="394.17" r="3.35"/><circle cx="527.80" cy="394.17" r="3.35"/><circle cx="547.01" cy="394.17" r="3.35"/><circle cx="566.22" cy="394.17" r="3.35"/><circle cx="585.43" cy="394.17" r="3.35"/><circle cx="604.64" cy="394.17" r="3.35"/><circle cx="392.85" cy="413.40" r="3.35"/><circle cx="412.06" cy="413.40" r="3.35"/><circle cx="431.27" cy="413.40" r="3.35"/><circle cx="450.48" cy="413.40" r="3.35"/><circle cx="469.69" cy="413.40" r="3.35"/><circle cx="527.80" cy="413.40" r="3.35"/><circle cx="547.01" cy="413.40" r="3.35"/><circle cx="566.22" cy="413.40" r="3.35"/><circle cx="585.43" cy="413.40" r="3.35"/><circle cx="604.64" cy="413.40" r="3.35"/><circle cx="316.00" cy="67.30" r="3.35"/><circle cx="662.00" cy="67.30" r="3.35"/><circle cx="681.25" cy="67.30" r="3.35"/><circle cx="316.00" cy="86.52" r="3.35"/><circle cx="662.00" cy="86.52" r="3.35"/><circle cx="681.25" cy="86.52" r="3.35"/><circle cx="316.00" cy="105.75" r="3.35"/><circle cx="662.00" cy="105.75" r="3.35"/><circle cx="681.25" cy="105.75" r="3.35"/><circle cx="316.00" cy="124.98" r="3.35"/><circle cx="662.00" cy="124.98" r="3.35"/><circle cx="681.25" cy="124.98" r="3.35"/><circle cx="316.00" cy="144.21" r="3.35"/><circle cx="662.00" cy="144.21" r="3.35"/><circle cx="681.25" cy="144.21" r="3.35"/><circle cx="316.00" cy="182.66" r="3.35"/><circle cx="662.00" cy="182.66" r="3.35"/><circle cx="681.25" cy="182.66" r="3.35"/><circle cx="316.00" cy="201.89" r="3.35"/><circle cx="662.00" cy="201.89" r="3.35"/><circle cx="681.25" cy="201.89" r="3.35"/><circle cx="316.00" cy="221.12" r="3.35"/><circle cx="662.00" cy="221.12" r="3.35"/><circle cx="681.25" cy="221.12" r="3.35"/><circle cx="316.00" cy="240.35" r="3.35"/><circle cx="662.00" cy="240.35" r="3.35"/><circle cx="681.25" cy="240.35" r="3.35"/><circle cx="316.00" cy="259.58" r="3.35"/><circle cx="662.00" cy="259.58" r="3.35"/><circle cx="681.25" cy="259.58" r="3.35"/><circle cx="316.00" cy="298.03" r="3.35"/><circle cx="662.00" cy="298.03" r="3.35"/><circle cx="681.25" cy="298.03" r="3.35"/><circle cx="316.00" cy="317.26" r="3.35"/><circle cx="662.00" cy="317.26" r="3.35"/><circle cx="681.25" cy="317.26" r="3.35"/><circle cx="316.00" cy="336.49" r="3.35"/><circle cx="662.00" cy="336.49" r="3.35"/><circle cx="681.25" cy="336.49" r="3.35"/><circle cx="316.00" cy="355.72" r="3.35"/><circle cx="662.00" cy="355.72" r="3.35"/><circle cx="681.25" cy="355.72" r="3.35"/><circle cx="316.00" cy="374.94" r="3.35"/><circle cx="662.00" cy="374.94" r="3.35"/><circle cx="681.25" cy="374.94" r="3.35"/><circle cx="316.00" cy="413.40" r="3.35"/><circle cx="662.00" cy="413.40" r="3.35"/><circle cx="681.25" cy="413.40" r="3.35"/></g>
<g fill="#bcbcbc" font-size="11.5" text-anchor="middle">
<text x="392.85" y="15">A</text>
<text x="412.06" y="15">B</text>
<text x="431.27000000000004" y="15">C</text>
<text x="450.48" y="15">D</text>
<text x="469.69000000000005" y="15">E</text>
<text x="527.8" y="15">F</text>
<text x="547.01" y="15">G</text>
<text x="566.2199999999999" y="15">H</text>
<text x="585.43" y="15">I</text>
<text x="604.64" y="15">J</text>
<text x="366" y="33.3">1</text>
<text x="623" y="33.3">1</text>
<text x="366" y="110.3">5</text>
<text x="623" y="110.3">5</text>
<text x="369.5" y="206.4">10</text>
<text x="627" y="206.4">10</text>
<text x="369.5" y="302.5">15</text>
<text x="627" y="302.5">15</text>
<text x="369.5" y="398.7">20</text>
<text x="627" y="398.7">20</text>
</g>
<circle cx="335.25" cy="125.0" r="8.2" fill="url(#gg)"/><circle cx="412.06" cy="125.0" r="8.2" fill="url(#gg)"/>
<line x1="335.25" y1="125.0" x2="412.06" y2="125.0" stroke="#8c8c8c" stroke-width="4.6"/>
<line x1="335.25" y1="124.4" x2="412.06" y2="124.4" stroke="#9a9a9a" stroke-width="1.2"/>
<path d="M332.75 125.0 L336.75 121.8 L341.25 122.7 V127.3 L336.75 128.2 Z" fill="#62b862"/>
<path d="M414.56 125.0 L410.56 121.8 L406.06 122.7 V127.3 L410.56 128.2 Z" fill="#62b862"/>
<g transform="translate(349.9,117.2)">
<path d="M3 0 H13 Q16 1.2 20 1.2 H32 Q36 1.2 38 0 H45.2 Q48.2 0 48.2 3 V13.3 Q48.2 16.3 45.2 16.3 H38 Q36 15.2 32 15.2 H20 Q16 15.2 13 16.3 H3 Q0 16.3 0 13.3 V3 Q0 0 3 0 Z" fill="url(#resg)"/>
<rect x="4.6" y="0.8" width="1.6" height="9" fill="#7a6228"/>
<rect x="17.4" y="1" width="4.5" height="14.3" fill="#7c3c0a"/>
<rect x="27" y="0.8" width="5.1" height="14.6" fill="#ec5a14"/>
<rect x="36.7" y="-0.3" width="5.1" height="17" rx="1.5" fill="#e8520e"/>
</g>
<circle cx="335.25" cy="182.7" r="8.2" fill="url(#gg)"/><circle cx="412.06" cy="182.7" r="8.2" fill="url(#gg)"/>
<line x1="335.25" y1="182.7" x2="412.06" y2="182.7" stroke="#8c8c8c" stroke-width="4.6"/>
<line x1="335.25" y1="182.1" x2="412.06" y2="182.1" stroke="#9a9a9a" stroke-width="1.2"/>
<path d="M332.75 182.7 L336.75 179.5 L341.25 180.4 V185.0 L336.75 185.9 Z" fill="#62b862"/>
<path d="M414.56 182.7 L410.56 179.5 L406.06 180.4 V185.0 L410.56 185.9 Z" fill="#62b862"/>
<g transform="translate(349.9,174.9)">
<path d="M3 0 H13 Q16 1.2 20 1.2 H32 Q36 1.2 38 0 H45.2 Q48.2 0 48.2 3 V13.3 Q48.2 16.3 45.2 16.3 H38 Q36 15.2 32 15.2 H20 Q16 15.2 13 16.3 H3 Q0 16.3 0 13.3 V3 Q0 0 3 0 Z" fill="url(#resg)"/>
<rect x="4.6" y="0.8" width="1.6" height="9" fill="#7a6228"/>
<rect x="17.4" y="1" width="4.5" height="14.3" fill="#7c3c0a"/>
<rect x="27" y="0.8" width="5.1" height="14.6" fill="#ec5a14"/>
<rect x="36.7" y="-0.3" width="5.1" height="17" rx="1.5" fill="#e8520e"/>
</g>
<circle cx="335.25" cy="240.3" r="8.2" fill="url(#gg)"/><circle cx="412.06" cy="240.3" r="8.2" fill="url(#gg)"/>
<line x1="335.25" y1="240.3" x2="412.06" y2="240.3" stroke="#8c8c8c" stroke-width="4.6"/>
<line x1="335.25" y1="239.7" x2="412.06" y2="239.7" stroke="#9a9a9a" stroke-width="1.2"/>
<path d="M332.75 240.3 L336.75 237.1 L341.25 238.0 V242.6 L336.75 243.5 Z" fill="#62b862"/>
<path d="M414.56 240.3 L410.56 237.1 L406.06 238.0 V242.6 L410.56 243.5 Z" fill="#62b862"/>
<g transform="translate(349.9,232.5)">
<path d="M3 0 H13 Q16 1.2 20 1.2 H32 Q36 1.2 38 0 H45.2 Q48.2 0 48.2 3 V13.3 Q48.2 16.3 45.2 16.3 H38 Q36 15.2 32 15.2 H20 Q16 15.2 13 16.3 H3 Q0 16.3 0 13.3 V3 Q0 0 3 0 Z" fill="url(#resg)"/>
<rect x="4.6" y="0.8" width="1.6" height="9" fill="#7a6228"/>
<rect x="17.4" y="1" width="4.5" height="14.3" fill="#7c3c0a"/>
<rect x="27" y="0.8" width="5.1" height="14.6" fill="#ec5a14"/>
<rect x="36.7" y="-0.3" width="5.1" height="17" rx="1.5" fill="#e8520e"/>
</g>
<circle cx="450.48" cy="125.0" r="8.2" fill="url(#gg)"/><circle cx="469.69000000000005" cy="125.0" r="8.2" fill="url(#gg)"/>
<circle cx="450.48" cy="144.2" r="8.2" fill="url(#gg)"/><circle cx="469.69000000000005" cy="144.2" r="8.2" fill="url(#gg)"/>
<line x1="450.48" y1="125.0" x2="540" y2="125.0" stroke="#8b8b8b" stroke-width="4.6" stroke-linecap="round"/>
<polyline points="450.48,144.2 516,144.2 527,135.2 540,135.2" fill="none" stroke="#8b8b8b" stroke-width="4.6" stroke-linecap="round" stroke-linejoin="round"/>
<line x1="450.48" y1="124.1" x2="536" y2="124.1" stroke="#9c9c9c" stroke-width="1.2"/>
<line x1="450.48" y1="143.3" x2="515" y2="143.3" stroke="#9c9c9c" stroke-width="1.2"/>
<line x1="450.48" y1="125.0" x2="471.69000000000005" y2="125.0" stroke="#7cb880" stroke-width="4.6" stroke-linecap="round" opacity="0.85"/>
<line x1="450.48" y1="144.2" x2="471.69000000000005" y2="144.2" stroke="#7cb880" stroke-width="4.6" stroke-linecap="round" opacity="0.85"/>
<circle cx="450.48" cy="182.7" r="8.2" fill="url(#gg)"/><circle cx="469.69000000000005" cy="182.7" r="8.2" fill="url(#gg)"/>
<circle cx="450.48" cy="201.9" r="8.2" fill="url(#gg)"/><circle cx="469.69000000000005" cy="201.9" r="8.2" fill="url(#gg)"/>
<line x1="450.48" y1="182.7" x2="540" y2="182.7" stroke="#8b8b8b" stroke-width="4.6" stroke-linecap="round"/>
<polyline points="450.48,201.9 516,201.9 527,192.9 540,192.9" fill="none" stroke="#8b8b8b" stroke-width="4.6" stroke-linecap="round" stroke-linejoin="round"/>
<line x1="450.48" y1="181.8" x2="536" y2="181.8" stroke="#9c9c9c" stroke-width="1.2"/>
<line x1="450.48" y1="201.0" x2="515" y2="201.0" stroke="#9c9c9c" stroke-width="1.2"/>
<line x1="450.48" y1="182.7" x2="471.69000000000005" y2="182.7" stroke="#7cb880" stroke-width="4.6" stroke-linecap="round" opacity="0.85"/>
<line x1="450.48" y1="201.9" x2="471.69000000000005" y2="201.9" stroke="#7cb880" stroke-width="4.6" stroke-linecap="round" opacity="0.85"/>
<circle cx="450.48" cy="240.3" r="8.2" fill="url(#gg)"/><circle cx="469.69000000000005" cy="240.3" r="8.2" fill="url(#gg)"/>
<circle cx="450.48" cy="259.6" r="8.2" fill="url(#gg)"/><circle cx="469.69000000000005" cy="259.6" r="8.2" fill="url(#gg)"/>
<line x1="450.48" y1="240.3" x2="540" y2="240.3" stroke="#8b8b8b" stroke-width="4.6" stroke-linecap="round"/>
<polyline points="450.48,259.6 516,259.6 527,250.6 540,250.6" fill="none" stroke="#8b8b8b" stroke-width="4.6" stroke-linecap="round" stroke-linejoin="round"/>
<line x1="450.48" y1="239.4" x2="536" y2="239.4" stroke="#9c9c9c" stroke-width="1.2"/>
<line x1="450.48" y1="258.7" x2="515" y2="258.7" stroke="#9c9c9c" stroke-width="1.2"/>
<line x1="450.48" y1="240.3" x2="471.69000000000005" y2="240.3" stroke="#7cb880" stroke-width="4.6" stroke-linecap="round" opacity="0.85"/>
<line x1="450.48" y1="259.6" x2="471.69000000000005" y2="259.6" stroke="#7cb880" stroke-width="4.6" stroke-linecap="round" opacity="0.85"/>
<g transform="translate(532.2,112.6)">
<path d="M5 0 H44.2 A18.2 18.2 0 0 1 44.2 36.4 Q36 36.8 29 39.5 Q23 41.4 15 41.4 Q0 41.4 0 28 V5 Q0 0 5 0 Z" fill="#41d37f" stroke="#2dbb66" stroke-width="1"/>
<path d="M7 4.5 Q4.2 14 5.6 31" fill="none" stroke="#9af2c2" stroke-width="2.2" opacity="0.55"/>
<path d="M6.5 4 Q3.8 14 5.2 31" fill="none" stroke="#9af2c2" stroke-width="1.1" opacity="0.85"/>
<path d="M8 2.6 H44 Q54 3 57.5 11.5" fill="none" stroke="#9af2c2" stroke-width="1.8" opacity="0.7"/>
<path d="M56.5 24 L52 31" fill="none" stroke="#9af2c2" stroke-width="1.8" opacity="0.6"/>
<rect x="28" y="9" width="11.5" height="22" fill="#23a558" opacity="0.8"/>
<path d="M28.5 9 L40 31" stroke="#41d37f" stroke-width="1.3"/>
<rect x="15" y="30.2" width="25" height="1.6" fill="#23a558" opacity="0.85"/>
</g>
<g transform="translate(532.2,170.3)">
<path d="M5 0 H44.2 A18.2 18.2 0 0 1 44.2 36.4 Q36 36.8 29 39.5 Q23 41.4 15 41.4 Q0 41.4 0 28 V5 Q0 0 5 0 Z" fill="#f5e47c" stroke="#e8d25a" stroke-width="1"/>
<path d="M7 4.5 Q4.2 14 5.6 31" fill="none" stroke="#fff8c8" stroke-width="2.2" opacity="0.55"/>
<path d="M6.5 4 Q3.8 14 5.2 31" fill="none" stroke="#fff8c8" stroke-width="1.1" opacity="0.85"/>
<path d="M8 2.6 H44 Q54 3 57.5 11.5" fill="none" stroke="#fff8c8" stroke-width="1.8" opacity="0.7"/>
<path d="M56.5 24 L52 31" fill="none" stroke="#fff8c8" stroke-width="1.8" opacity="0.6"/>
<rect x="28" y="9" width="11.5" height="22" fill="#cbb53a" opacity="0.8"/>
<path d="M28.5 9 L40 31" stroke="#f5e47c" stroke-width="1.3"/>
<rect x="15" y="30.2" width="25" height="1.6" fill="#cbb53a" opacity="0.85"/>
</g>
<g transform="translate(532.2,227.9)">
<path d="M5 0 H44.2 A18.2 18.2 0 0 1 44.2 36.4 Q36 36.8 29 39.5 Q23 41.4 15 41.4 Q0 41.4 0 28 V5 Q0 0 5 0 Z" fill="#e93b3b" stroke="#d42a2a" stroke-width="1"/>
<path d="M7 4.5 Q4.2 14 5.6 31" fill="none" stroke="#ff9c9c" stroke-width="2.2" opacity="0.55"/>
<path d="M6.5 4 Q3.8 14 5.2 31" fill="none" stroke="#ff9c9c" stroke-width="1.1" opacity="0.85"/>
<path d="M8 2.6 H44 Q54 3 57.5 11.5" fill="none" stroke="#ff9c9c" stroke-width="1.8" opacity="0.7"/>
<path d="M56.5 24 L52 31" fill="none" stroke="#ff9c9c" stroke-width="1.8" opacity="0.6"/>
<rect x="28" y="9" width="11.5" height="22" fill="#c21b1b" opacity="0.8"/>
<path d="M28.5 9 L40 31" stroke="#e93b3b" stroke-width="1.3"/>
<rect x="15" y="30.2" width="25" height="1.6" fill="#c21b1b" opacity="0.85"/>
</g>
<rect x="0" y="39" width="191" height="364.5" rx="12" fill="#1f1a18"/>
<rect x="35.5" y="39" width="120" height="170" fill="#1c1b1b"/>
<rect x="50.3" y="91" width="92" height="112" rx="1.5" fill="#2f2f2f"/>
<path d="M52 95 V45.6 H65 V72 H73.5 V45.6 H84.3 V72 H94 V45.6 H104.6 V72 H114 V45.6 H141" fill="none" stroke="#3c3c3c" stroke-width="2.6"/>
<path d="M53 81.6 H112.5" stroke="#3c3c3c" stroke-width="2.6"/>
<circle cx="14.7" cy="56.4" r="11.4" fill="#ffffff"/>
<circle cx="175.5" cy="56.4" r="11.4" fill="#ffffff"/>
<circle cx="14.4" cy="387.3" r="11.4" fill="#ffffff"/>
<circle cx="175.1" cy="387.9" r="11.4" fill="#ffffff"/>
<rect x="58.4" y="94" width="52.8" height="23.2" rx="11.6" fill="#c3c3c3"/>
<path d="M92 96 H99 Q108.6 96 108.6 105.6 Q108.6 115.3 99 115.3 H83.8 L86.2 103 Q87.5 96 92 96 Z" fill="#3a3a3a"/>
<text x="61" y="110.8" font-size="17" font-weight="bold" fill="#3a3a3a" stroke="#3a3a3a" stroke-width="0.6" letter-spacing="-0.3">Wi</text>
<text x="88" y="110.8" font-size="17" font-weight="bold" fill="#c3c3c3" stroke="#c3c3c3" stroke-width="0.5" letter-spacing="-0.3">Fi</text>
<text x="52.6" y="133.5" font-size="10.2" fill="#5e5e5e" textLength="61" lengthAdjust="spacingAndGlyphs">ESP-WROOM-32</text>
<clipPath id="ec"><circle cx="0" cy="0" r="10"/></clipPath>
<g transform="translate(123.8,153.8)">
<circle r="12.1" fill="#b3b3b3"/>
<circle r="10.6" fill="none" stroke="#2f2f2f" stroke-width="1.1"/>
<g clip-path="url(#ec)" fill="none" stroke="#2f2f2f" stroke-width="1.7">
<circle cx="-6.6" cy="-6.3" r="3.6"/>
<circle cx="-6.6" cy="-6.3" r="8.2"/>
<circle cx="-6.6" cy="-6.3" r="12.8"/>
<circle cx="-6.6" cy="-6.3" r="17.4"/>
</g>
<circle cx="-6.6" cy="-6.3" r="1.7" fill="#b3b3b3"/>
</g>
<rect x="36.2" y="92.6" width="12" height="9.4" fill="#f0dcc6"/>
<circle cx="37.0" cy="97.3" r="2.3" fill="#2a1a12"/><circle cx="43.4" cy="97.3" r="2.3" fill="#2a1a12"/>
<rect x="144.0" y="92.6" width="12" height="9.4" fill="#f0dcc6"/>
<circle cx="155.2" cy="97.3" r="2.3" fill="#2a1a12"/><circle cx="148.8" cy="97.3" r="2.3" fill="#2a1a12"/>
<rect x="36.2" y="107.0" width="12" height="9.4" fill="#f0dcc6"/>
<circle cx="37.0" cy="111.7" r="2.3" fill="#2a1a12"/><circle cx="43.4" cy="111.7" r="2.3" fill="#2a1a12"/>
<rect x="144.0" y="107.0" width="12" height="9.4" fill="#f0dcc6"/>
<circle cx="155.2" cy="111.7" r="2.3" fill="#2a1a12"/><circle cx="148.8" cy="111.7" r="2.3" fill="#2a1a12"/>
<rect x="36.2" y="121.4" width="12" height="9.4" fill="#f0dcc6"/>
<circle cx="37.0" cy="126.1" r="2.3" fill="#2a1a12"/><circle cx="43.4" cy="126.1" r="2.3" fill="#2a1a12"/>
<rect x="144.0" y="121.4" width="12" height="9.4" fill="#f0dcc6"/>
<circle cx="155.2" cy="126.1" r="2.3" fill="#2a1a12"/><circle cx="148.8" cy="126.1" r="2.3" fill="#2a1a12"/>
<rect x="36.2" y="135.8" width="12" height="9.4" fill="#f0dcc6"/>
<circle cx="37.0" cy="140.5" r="2.3" fill="#2a1a12"/><circle cx="43.4" cy="140.5" r="2.3" fill="#2a1a12"/>
<rect x="144.0" y="135.8" width="12" height="9.4" fill="#f0dcc6"/>
<circle cx="155.2" cy="140.5" r="2.3" fill="#2a1a12"/><circle cx="148.8" cy="140.5" r="2.3" fill="#2a1a12"/>
<rect x="36.2" y="150.2" width="12" height="9.4" fill="#f0dcc6"/>
<circle cx="37.0" cy="154.9" r="2.3" fill="#2a1a12"/><circle cx="43.4" cy="154.9" r="2.3" fill="#2a1a12"/>
<rect x="144.0" y="150.2" width="12" height="9.4" fill="#f0dcc6"/>
<circle cx="155.2" cy="154.9" r="2.3" fill="#2a1a12"/><circle cx="148.8" cy="154.9" r="2.3" fill="#2a1a12"/>
<rect x="36.2" y="164.6" width="12" height="9.4" fill="#f0dcc6"/>
<circle cx="37.0" cy="169.3" r="2.3" fill="#2a1a12"/><circle cx="43.4" cy="169.3" r="2.3" fill="#2a1a12"/>
<rect x="144.0" y="164.6" width="12" height="9.4" fill="#f0dcc6"/>
<circle cx="155.2" cy="169.3" r="2.3" fill="#2a1a12"/><circle cx="148.8" cy="169.3" r="2.3" fill="#2a1a12"/>
<rect x="36.2" y="179.0" width="12" height="9.4" fill="#f0dcc6"/>
<circle cx="37.0" cy="183.7" r="2.3" fill="#2a1a12"/><circle cx="43.4" cy="183.7" r="2.3" fill="#2a1a12"/>
<rect x="144.0" y="179.0" width="12" height="9.4" fill="#f0dcc6"/>
<circle cx="155.2" cy="183.7" r="2.3" fill="#2a1a12"/><circle cx="148.8" cy="183.7" r="2.3" fill="#2a1a12"/>
<rect x="36.2" y="193.4" width="12" height="9.4" fill="#f0dcc6"/>
<circle cx="37.0" cy="198.1" r="2.3" fill="#2a1a12"/><circle cx="43.4" cy="198.1" r="2.3" fill="#2a1a12"/>
<rect x="144.0" y="193.4" width="12" height="9.4" fill="#f0dcc6"/>
<circle cx="155.2" cy="198.1" r="2.3" fill="#2a1a12"/><circle cx="148.8" cy="198.1" r="2.3" fill="#2a1a12"/>
<rect x="52.8" y="202.5" width="10" height="7.5" fill="#f0dcc6"/>
<circle cx="57.8" cy="202.3" r="2" fill="#1f1a18"/><circle cx="57.8" cy="210.2" r="2" fill="#1f1a18"/>
<rect x="68.0" y="202.5" width="10" height="7.5" fill="#f0dcc6"/>
<circle cx="73.0" cy="202.3" r="2" fill="#1f1a18"/><circle cx="73.0" cy="210.2" r="2" fill="#1f1a18"/>
<rect x="83.2" y="202.5" width="10" height="7.5" fill="#f0dcc6"/>
<circle cx="88.2" cy="202.3" r="2" fill="#1f1a18"/><circle cx="88.2" cy="210.2" r="2" fill="#1f1a18"/>
<rect x="98.4" y="202.5" width="10" height="7.5" fill="#f0dcc6"/>
<circle cx="103.4" cy="202.3" r="2" fill="#1f1a18"/><circle cx="103.4" cy="210.2" r="2" fill="#1f1a18"/>
<rect x="113.6" y="202.5" width="10" height="7.5" fill="#f0dcc6"/>
<circle cx="118.6" cy="202.3" r="2" fill="#1f1a18"/><circle cx="118.6" cy="210.2" r="2" fill="#1f1a18"/>
<rect x="128.8" y="202.5" width="10" height="7.5" fill="#f0dcc6"/>
<circle cx="133.8" cy="202.3" r="2" fill="#1f1a18"/><circle cx="133.8" cy="210.2" r="2" fill="#1f1a18"/>
<rect x="46.0" y="233.2" width="5.6" height="2.4" fill="#9c9c9c"/>
<rect x="56.4" y="233.2" width="5.6" height="2.4" fill="#9c9c9c"/>
<rect x="66.8" y="233.2" width="5.6" height="2.4" fill="#9c9c9c"/>
<rect x="77.2" y="233.2" width="5.6" height="2.4" fill="#9c9c9c"/>
<rect x="87.6" y="233.2" width="5.6" height="2.4" fill="#9c9c9c"/>
<rect x="98.0" y="233.2" width="5.6" height="2.4" fill="#9c9c9c"/>
<rect x="108.4" y="233.2" width="5.6" height="2.4" fill="#9c9c9c"/>
<rect x="118.8" y="233.2" width="5.6" height="2.4" fill="#9c9c9c"/>
<rect x="129.2" y="233.2" width="5.6" height="2.4" fill="#9c9c9c"/>
<rect x="139.6" y="233.2" width="5.6" height="2.4" fill="#9c9c9c"/>
<rect x="150.0" y="233.2" width="5.6" height="2.4" fill="#9c9c9c"/>
<rect x="46.0" y="241.2" width="5.6" height="2.4" fill="#9c9c9c"/>
<rect x="56.4" y="241.2" width="5.6" height="2.4" fill="#9c9c9c"/>
<rect x="66.8" y="241.2" width="5.6" height="2.4" fill="#9c9c9c"/>
<rect x="77.2" y="241.2" width="5.6" height="2.4" fill="#9c9c9c"/>
<rect x="87.6" y="241.2" width="5.6" height="2.4" fill="#9c9c9c"/>
<rect x="98.0" y="241.2" width="5.6" height="2.4" fill="#9c9c9c"/>
<rect x="108.4" y="241.2" width="5.6" height="2.4" fill="#9c9c9c"/>
<rect x="118.8" y="241.2" width="5.6" height="2.4" fill="#9c9c9c"/>
<rect x="129.2" y="241.2" width="5.6" height="2.4" fill="#9c9c9c"/>
<rect x="139.6" y="241.2" width="5.6" height="2.4" fill="#9c9c9c"/>
<rect x="150.0" y="241.2" width="5.6" height="2.4" fill="#9c9c9c"/>
<text x="33.6" y="275" font-size="10.6" fill="#a6a6a6" stroke="#a6a6a6" stroke-width="0.2" textLength="115.8" lengthAdjust="spacingAndGlyphs">RandomNerdTutorials.com</text>
<rect x="41.1" y="323" width="10.8" height="16.8" fill="#a8a8a8"/>
<rect x="53.8" y="315" width="15.2" height="30.7" fill="#333333"/>
<rect x="70.9" y="317.3" width="10.7" height="6" fill="#a8a8a8"/>
<rect x="70.9" y="327.9" width="10.7" height="6" fill="#a8a8a8"/>
<rect x="70.9" y="339.0" width="10.7" height="6" fill="#a8a8a8"/>
<rect x="107.5" y="306.5" width="41" height="40" fill="#1a1a1a"/>
<rect x="110.4" y="303.6" width="2.6" height="2.6" fill="#9c9c9c"/><rect x="110.4" y="347.2" width="2.6" height="2.6" fill="#9c9c9c"/>
<rect x="115.8" y="303.6" width="2.6" height="2.6" fill="#9c9c9c"/><rect x="115.8" y="347.2" width="2.6" height="2.6" fill="#9c9c9c"/>
<rect x="121.2" y="303.6" width="2.6" height="2.6" fill="#9c9c9c"/><rect x="121.2" y="347.2" width="2.6" height="2.6" fill="#9c9c9c"/>
<rect x="126.7" y="303.6" width="2.6" height="2.6" fill="#9c9c9c"/><rect x="126.7" y="347.2" width="2.6" height="2.6" fill="#9c9c9c"/>
<rect x="132.1" y="303.6" width="2.6" height="2.6" fill="#9c9c9c"/><rect x="132.1" y="347.2" width="2.6" height="2.6" fill="#9c9c9c"/>
<rect x="137.5" y="303.6" width="2.6" height="2.6" fill="#9c9c9c"/><rect x="137.5" y="347.2" width="2.6" height="2.6" fill="#9c9c9c"/>
<rect x="142.9" y="303.6" width="2.6" height="2.6" fill="#9c9c9c"/><rect x="142.9" y="347.2" width="2.6" height="2.6" fill="#9c9c9c"/>
<rect x="104.6" y="308.3" width="2.6" height="2.4" fill="#9c9c9c"/><rect x="149" y="308.3" width="2.6" height="2.4" fill="#9c9c9c"/>
<rect x="104.6" y="313.0" width="2.6" height="2.4" fill="#9c9c9c"/><rect x="149" y="313.0" width="2.6" height="2.4" fill="#9c9c9c"/>
<rect x="104.6" y="317.8" width="2.6" height="2.4" fill="#9c9c9c"/><rect x="149" y="317.8" width="2.6" height="2.4" fill="#9c9c9c"/>
<rect x="104.6" y="322.5" width="2.6" height="2.4" fill="#9c9c9c"/><rect x="149" y="322.5" width="2.6" height="2.4" fill="#9c9c9c"/>
<rect x="104.6" y="327.2" width="2.6" height="2.4" fill="#9c9c9c"/><rect x="149" y="327.2" width="2.6" height="2.4" fill="#9c9c9c"/>
<rect x="104.6" y="331.9" width="2.6" height="2.4" fill="#9c9c9c"/><rect x="149" y="331.9" width="2.6" height="2.4" fill="#9c9c9c"/>
<rect x="104.6" y="336.7" width="2.6" height="2.4" fill="#9c9c9c"/><rect x="149" y="336.7" width="2.6" height="2.4" fill="#9c9c9c"/>
<rect x="104.6" y="341.4" width="2.6" height="2.4" fill="#9c9c9c"/><rect x="149" y="341.4" width="2.6" height="2.4" fill="#9c9c9c"/>
<text x="113.6" y="330.2" font-size="10.5" fill="#8c8c8c" textLength="31.5" lengthAdjust="spacingAndGlyphs">CP2102</text>
<rect x="35.2" y="369.8" width="22.2" height="21.3" fill="#c6c6c6"/><circle cx="46.3" cy="380.4" r="7.2" fill="#1e1e1e"/>
<rect x="133.7" y="370" width="21.8" height="20.4" fill="#c6c6c6"/><circle cx="144.6" cy="380.2" r="7.2" fill="#1e1e1e"/>
<rect x="66" y="370" width="58" height="46" fill="#c0c0c0"/>
<text font-family="Liberation Mono" font-weight="bold" font-size="8" fill="#f0f0f0" text-anchor="middle" transform="translate(63.4,381.5) rotate(-90)">EN</text>
<text font-family="Liberation Mono" font-weight="bold" font-size="8" fill="#f0f0f0" text-anchor="middle" transform="translate(132.4,380.5) rotate(-90)">BOOT</text>
<path d="M3.6999999999999993 77.5 H13.7 L18.0 82.1 V92.1 L13.7 96.69999999999999 H3.6999999999999993 L-0.6000000000000014 92.1 V82.1 Z" fill="#3b3f44"/>
<circle cx="8.7" cy="87.1" r="8.2" fill="none" stroke="#44484d" stroke-width="1.2"/>
<path d="M3.6999999999999993 96.74 H13.7 L18.0 101.33999999999999 V111.33999999999999 L13.7 115.93999999999998 H3.6999999999999993 L-0.6000000000000014 111.33999999999999 V101.33999999999999 Z" fill="#3b3f44"/>
<circle cx="8.7" cy="106.3" r="8.2" fill="none" stroke="#44484d" stroke-width="1.2"/>
<path d="M3.6999999999999993 115.97999999999999 H13.7 L18.0 120.57999999999998 V130.57999999999998 L13.7 135.17999999999998 H3.6999999999999993 L-0.6000000000000014 130.57999999999998 V120.57999999999998 Z" fill="#3b3f44"/>
<circle cx="8.7" cy="125.6" r="8.2" fill="none" stroke="#44484d" stroke-width="1.2"/>
<path d="M3.6999999999999993 135.22 H13.7 L18.0 139.82 V149.82 L13.7 154.42 H3.6999999999999993 L-0.6000000000000014 149.82 V139.82 Z" fill="#3b3f44"/>
<circle cx="8.7" cy="144.8" r="8.2" fill="none" stroke="#44484d" stroke-width="1.2"/>
<path d="M3.6999999999999993 154.46 H13.7 L18.0 159.06 V169.06 L13.7 173.66 H3.6999999999999993 L-0.6000000000000014 169.06 V159.06 Z" fill="#3b3f44"/>
<circle cx="8.7" cy="164.1" r="8.2" fill="none" stroke="#44484d" stroke-width="1.2"/>
<path d="M3.6999999999999993 173.7 H13.7 L18.0 178.29999999999998 V188.29999999999998 L13.7 192.89999999999998 H3.6999999999999993 L-0.6000000000000014 188.29999999999998 V178.29999999999998 Z" fill="#3b3f44"/>
<circle cx="8.7" cy="183.3" r="8.2" fill="none" stroke="#44484d" stroke-width="1.2"/>
<path d="M3.6999999999999993 192.94 H13.7 L18.0 197.54 V207.54 L13.7 212.14 H3.6999999999999993 L-0.6000000000000014 207.54 V197.54 Z" fill="#3b3f44"/>
<circle cx="8.7" cy="202.5" r="8.2" fill="none" stroke="#44484d" stroke-width="1.2"/>
<path d="M3.6999999999999993 212.17999999999998 H13.7 L18.0 216.77999999999997 V226.77999999999997 L13.7 231.37999999999997 H3.6999999999999993 L-0.6000000000000014 226.77999999999997 V216.77999999999997 Z" fill="#3b3f44"/>
<circle cx="8.7" cy="221.8" r="8.2" fill="none" stroke="#44484d" stroke-width="1.2"/>
<path d="M3.6999999999999993 231.42 H13.7 L18.0 236.01999999999998 V246.01999999999998 L13.7 250.61999999999998 H3.6999999999999993 L-0.6000000000000014 246.01999999999998 V236.01999999999998 Z" fill="#3b3f44"/>
<circle cx="8.7" cy="241.0" r="8.2" fill="none" stroke="#44484d" stroke-width="1.2"/>
<path d="M3.6999999999999993 250.66 H13.7 L18.0 255.26 V265.26 L13.7 269.86 H3.6999999999999993 L-0.6000000000000014 265.26 V255.26 Z" fill="#3b3f44"/>
<circle cx="8.7" cy="260.3" r="8.2" fill="none" stroke="#44484d" stroke-width="1.2"/>
<path d="M3.6999999999999993 269.9 H13.7 L18.0 274.5 V284.5 L13.7 289.1 H3.6999999999999993 L-0.6000000000000014 284.5 V274.5 Z" fill="#3b3f44"/>
<circle cx="8.7" cy="279.5" r="8.2" fill="none" stroke="#44484d" stroke-width="1.2"/>
<path d="M3.6999999999999993 289.14 H13.7 L18.0 293.74 V303.74 L13.7 308.34000000000003 H3.6999999999999993 L-0.6000000000000014 303.74 V293.74 Z" fill="#3b3f44"/>
<circle cx="8.7" cy="298.7" r="8.2" fill="none" stroke="#44484d" stroke-width="1.2"/>
<path d="M3.6999999999999993 308.38 H13.7 L18.0 312.98 V322.98 L13.7 327.58000000000004 H3.6999999999999993 L-0.6000000000000014 322.98 V312.98 Z" fill="#3b3f44"/>
<circle cx="8.7" cy="318.0" r="8.2" fill="none" stroke="#44484d" stroke-width="1.2"/>
<path d="M3.6999999999999993 327.61999999999995 H13.7 L18.0 332.21999999999997 V342.21999999999997 L13.7 346.82 H3.6999999999999993 L-0.6000000000000014 342.21999999999997 V332.21999999999997 Z" fill="#3b3f44"/>
<circle cx="8.7" cy="337.2" r="8.2" fill="none" stroke="#44484d" stroke-width="1.2"/>
<path d="M3.6999999999999993 346.8599999999999 H13.7 L18.0 351.4599999999999 V361.4599999999999 L13.7 366.05999999999995 H3.6999999999999993 L-0.6000000000000014 361.4599999999999 V351.4599999999999 Z" fill="#3b3f44"/>
<circle cx="8.7" cy="356.5" r="8.2" fill="none" stroke="#44484d" stroke-width="1.2"/>
<path d="M176.5 77.2 H186.5 L190.8 81.8 V91.8 L186.5 96.39999999999999 H176.5 L172.2 91.8 V81.8 Z" fill="#3b3f44"/>
<circle cx="181.5" cy="86.8" r="8.2" fill="none" stroke="#44484d" stroke-width="1.2"/>
<path d="M176.5 96.43 H186.5 L190.8 101.03 V111.03 L186.5 115.63 H176.5 L172.2 111.03 V101.03 Z" fill="#3b3f44"/>
<circle cx="181.5" cy="106.0" r="8.2" fill="none" stroke="#44484d" stroke-width="1.2"/>
<path d="M176.5 115.66 H186.5 L190.8 120.25999999999999 V130.26 L186.5 134.85999999999999 H176.5 L172.2 130.26 V120.25999999999999 Z" fill="#3b3f44"/>
<circle cx="181.5" cy="125.3" r="8.2" fill="none" stroke="#44484d" stroke-width="1.2"/>
<path d="M176.5 134.89000000000001 H186.5 L190.8 139.49 V149.49 L186.5 154.09 H176.5 L172.2 149.49 V139.49 Z" fill="#3b3f44"/>
<circle cx="181.5" cy="144.5" r="8.2" fill="none" stroke="#44484d" stroke-width="1.2"/>
<path d="M176.5 154.12 H186.5 L190.8 158.72 V168.72 L186.5 173.32 H176.5 L172.2 168.72 V158.72 Z" fill="#3b3f44"/>
<circle cx="181.5" cy="163.7" r="8.2" fill="none" stroke="#44484d" stroke-width="1.2"/>
<path d="M176.5 173.35 H186.5 L190.8 177.95 V187.95 L186.5 192.54999999999998 H176.5 L172.2 187.95 V177.95 Z" fill="#3b3f44"/>
<circle cx="181.5" cy="182.9" r="8.2" fill="none" stroke="#44484d" stroke-width="1.2"/>
<path d="M176.5 192.58 H186.5 L190.8 197.18 V207.18 L186.5 211.78 H176.5 L172.2 207.18 V197.18 Z" fill="#3b3f44"/>
<circle cx="181.5" cy="202.2" r="8.2" fill="none" stroke="#44484d" stroke-width="1.2"/>
<path d="M176.5 211.81000000000003 H186.5 L190.8 216.41000000000003 V226.41000000000003 L186.5 231.01000000000002 H176.5 L172.2 226.41000000000003 V216.41000000000003 Z" fill="#3b3f44"/>
<circle cx="181.5" cy="221.4" r="8.2" fill="none" stroke="#44484d" stroke-width="1.2"/>
<path d="M176.5 231.04 H186.5 L190.8 235.64 V245.64 L186.5 250.23999999999998 H176.5 L172.2 245.64 V235.64 Z" fill="#3b3f44"/>
<circle cx="181.5" cy="240.6" r="8.2" fill="none" stroke="#44484d" stroke-width="1.2"/>
<path d="M176.5 250.27 H186.5 L190.8 254.87 V264.87 L186.5 269.47 H176.5 L172.2 264.87 V254.87 Z" fill="#3b3f44"/>
<circle cx="181.5" cy="259.9" r="8.2" fill="none" stroke="#44484d" stroke-width="1.2"/>
<path d="M176.5 269.5 H186.5 L190.8 274.1 V284.1 L186.5 288.70000000000005 H176.5 L172.2 284.1 V274.1 Z" fill="#3b3f44"/>
<circle cx="181.5" cy="279.1" r="8.2" fill="none" stroke="#44484d" stroke-width="1.2"/>
<path d="M176.5 288.72999999999996 H186.5 L190.8 293.33 V303.33 L186.5 307.93 H176.5 L172.2 303.33 V293.33 Z" fill="#3b3f44"/>
<circle cx="181.5" cy="298.3" r="8.2" fill="none" stroke="#44484d" stroke-width="1.2"/>
<path d="M176.5 307.96 H186.5 L190.8 312.56 V322.56 L186.5 327.16 H176.5 L172.2 322.56 V312.56 Z" fill="#3b3f44"/>
<circle cx="181.5" cy="317.6" r="8.2" fill="none" stroke="#44484d" stroke-width="1.2"/>
<path d="M176.5 327.19 H186.5 L190.8 331.79 V341.79 L186.5 346.39000000000004 H176.5 L172.2 341.79 V331.79 Z" fill="#3b3f44"/>
<circle cx="181.5" cy="336.8" r="8.2" fill="none" stroke="#44484d" stroke-width="1.2"/>
<path d="M176.5 346.42 H186.5 L190.8 351.02000000000004 V361.02000000000004 L186.5 365.62000000000006 H176.5 L172.2 361.02000000000004 V351.02000000000004 Z" fill="#3b3f44"/>
<circle cx="181.5" cy="356.0" r="8.2" fill="none" stroke="#44484d" stroke-width="1.2"/>
<circle cx="8.7" cy="87.1" r="4.8" fill="url(#pr)"/>
<circle cx="181.5" cy="86.8" r="4.8" fill="url(#pr)"/>
<circle cx="8.7" cy="106.3" r="4.8" fill="url(#pr)"/>
<circle cx="181.5" cy="106.0" r="5.5" fill="url(#pg)"/><rect x="179.2" y="103.7" width="4.6" height="4.6" fill="#79ad55"/>
<circle cx="8.7" cy="125.6" r="4.8" fill="url(#pr)"/>
<circle cx="181.5" cy="125.3" r="4.8" fill="url(#pr)"/>
<circle cx="8.7" cy="144.8" r="4.8" fill="url(#pr)"/>
<circle cx="181.5" cy="144.5" r="4.8" fill="url(#pr)"/>
<circle cx="8.7" cy="164.1" r="4.8" fill="url(#pr)"/>
<circle cx="181.5" cy="163.7" r="4.8" fill="url(#pr)"/>
<circle cx="8.7" cy="183.3" r="4.8" fill="url(#pr)"/>
<circle cx="181.5" cy="182.9" r="4.8" fill="url(#pr)"/>
<circle cx="8.7" cy="202.5" r="4.8" fill="url(#pr)"/>
<circle cx="181.5" cy="202.2" r="5.5" fill="url(#pg)"/><rect x="179.2" y="199.9" width="4.6" height="4.6" fill="#79ad55"/>
<circle cx="8.7" cy="221.8" r="4.8" fill="url(#pr)"/>
<circle cx="8.7" cy="241.0" r="4.8" fill="url(#pr)"/>
<circle cx="8.7" cy="260.3" r="4.8" fill="url(#pr)"/>
<circle cx="8.7" cy="279.5" r="4.8" fill="url(#pr)"/>
<circle cx="181.5" cy="279.1" r="5.5" fill="url(#pg)"/><rect x="179.2" y="276.8" width="4.6" height="4.6" fill="#79ad55"/>
<circle cx="8.7" cy="298.7" r="4.8" fill="url(#pr)"/>
<circle cx="181.5" cy="298.3" r="5.5" fill="url(#pg)"/><rect x="179.2" y="296.0" width="4.6" height="4.6" fill="#79ad55"/>
<circle cx="8.7" cy="318.0" r="4.8" fill="url(#pr)"/>
<circle cx="181.5" cy="317.6" r="5.5" fill="url(#pg)"/><rect x="179.2" y="315.3" width="4.6" height="4.6" fill="#79ad55"/>
<circle cx="8.7" cy="337.2" r="4.8" fill="url(#pr)"/>
<circle cx="8.7" cy="356.5" r="4.8" fill="url(#pr)"/>
<circle cx="181.5" cy="356.0" r="5.5" fill="url(#pg)"/><rect x="179.2" y="353.7" width="4.6" height="4.6" fill="#79ad55"/>
<g font-family="Liberation Mono" font-size="8.6" fill="#ececec" stroke="#ececec" stroke-width="0.3" letter-spacing="0.75" text-anchor="middle">
<text transform="translate(28.4,89.0) rotate(-90) scale(0.78,1)">EN</text>
<text transform="translate(167.6,84.7) rotate(-90) scale(0.78,1)">D23</text>
<text transform="translate(28.4,111.0) rotate(-90) scale(0.78,1)">VP</text>
<text transform="translate(167.6,104.2) rotate(-90) scale(0.78,1)">D22</text>
<text transform="translate(28.4,130.2) rotate(-90) scale(0.78,1)">VN</text>
<text transform="translate(167.6,122.4) rotate(-90) scale(0.78,1)">TXO</text>
<text transform="translate(28.4,146.7) rotate(-90) scale(0.78,1)">D34</text>
<text transform="translate(167.6,143.6) rotate(-90) scale(0.78,1)">RXO</text>
<text transform="translate(28.4,166.0) rotate(-90) scale(0.78,1)">D35</text>
<text transform="translate(167.6,163.5) rotate(-90) scale(0.78,1)">D21</text>
<text transform="translate(28.4,185.5) rotate(-90) scale(0.78,1)">D32</text>
<text transform="translate(167.6,179.0) rotate(-90) scale(0.78,1)">D19</text>
<text transform="translate(28.4,203.3) rotate(-90) scale(0.78,1)">D33</text>
<text transform="translate(167.6,199.7) rotate(-90) scale(0.78,1)">D18</text>
<text transform="translate(28.4,222.6) rotate(-90) scale(0.78,1)">D25</text>
<text transform="translate(167.6,219.3) rotate(-90) scale(0.78,1)">D5</text>
<text transform="translate(28.4,242.2) rotate(-90) scale(0.78,1)">D26</text>
<text transform="translate(167.6,239.6) rotate(-90) scale(0.78,1)">TX2</text>
<text transform="translate(28.4,261.0) rotate(-90) scale(0.78,1)">D27</text>
<text transform="translate(167.6,260.5) rotate(-90) scale(0.78,1)">RX2</text>
<text transform="translate(28.4,279.3) rotate(-90) scale(0.78,1)">D14</text>
<text transform="translate(167.6,278.5) rotate(-90) scale(0.78,1)">D4</text>
<text transform="translate(28.4,295.6) rotate(-90) scale(0.78,1)">D12</text>
<text transform="translate(167.6,297.3) rotate(-90) scale(0.78,1)">D2</text>
<text transform="translate(28.4,319.2) rotate(-90) scale(0.78,1)">D13</text>
<text transform="translate(167.6,319.2) rotate(-90) scale(0.78,1)">D15</text>
<text transform="translate(28.4,337.6) rotate(-90) scale(0.78,1)">GND</text>
<text transform="translate(167.6,337.6) rotate(-90) scale(0.78,1)">GND</text>
<text transform="translate(28.4,356.1) rotate(-90) scale(0.78,1)">Vin</text>
<text transform="translate(167.6,354.6) rotate(-90) scale(0.78,1)">3V3</text>
</g>
<circle cx="392.85" cy="144.2" r="8.5" fill="url(#gg)"/>
<circle cx="392.85" cy="201.9" r="8.5" fill="url(#gg)"/>
<circle cx="392.85" cy="259.4" r="8.5" fill="url(#gg)"/>
<circle cx="335.25" cy="336.8" r="8.5" fill="url(#gg)"/>
<path d="M181.2 221.2 C221.1 165.4 304.4 138.4 392.9 144.2" fill="none" stroke="#14962a" stroke-width="8.2" stroke-linecap="round"/>
<path d="M181.2 221.2 C221.1 165.4 304.4 138.4 392.9 144.2" fill="none" stroke="#1fc236" stroke-width="5.999999999999999" stroke-linecap="round"/>
<circle cx="181.2" cy="221.2" r="4.6" fill="#2bd145"/><circle cx="392.9" cy="144.2" r="4.6" fill="#2bd145"/>
<path d="M181 240.2 L392.9 201.9" fill="none" stroke="#cfc62a" stroke-width="8.2" stroke-linecap="round"/>
<path d="M181 240.2 L392.9 201.9" fill="none" stroke="#f3ec12" stroke-width="5.999999999999999" stroke-linecap="round"/>
<circle cx="181" cy="240.2" r="4.6" fill="#b2e436"/><circle cx="392.9" cy="201.9" r="4.6" fill="#a6e22e"/>
<path d="M181.2 259.4 C214.7 294.1 329.1 274.4 392.9 259.4" fill="none" stroke="#b84c12" stroke-width="8.2" stroke-linecap="round"/>
<path d="M181.2 259.4 C214.7 294.1 329.1 274.4 392.9 259.4" fill="none" stroke="#e2600f" stroke-width="5.999999999999999" stroke-linecap="round"/>
<circle cx="181.2" cy="259.4" r="4.6" fill="#a08a1e"/><circle cx="392.9" cy="259.4" r="4.6" fill="#8f9a18"/>
<path d="M180.5 336.8 L335.5 336.8" fill="none" stroke="#101010" stroke-width="8.4" stroke-linecap="round"/>
<path d="M180.5 336.8 L335.5 336.8" fill="none" stroke="#484848" stroke-width="4.6" stroke-linecap="round"/>
<circle cx="181.3" cy="336.8" r="4.4" fill="none" stroke="#2c8a2c" stroke-width="1.6"/><circle cx="335.3" cy="336.8" r="4.4" fill="none" stroke="#2c7a2c" stroke-width="1.6"/>
<text transform="translate(226.3,200) scale(0.5)" font-size="32" fill="#2c9247" stroke="#2c9247" stroke-width="1.3" textLength="113.0" lengthAdjust="spacingAndGlyphs">GPIO 5</text>
<text transform="translate(223.3,252.9) scale(0.5)" font-size="32" fill="#e4be46" stroke="#e4be46" stroke-width="1.3" textLength="131.0" lengthAdjust="spacingAndGlyphs">GPIO 17</text>
<text transform="translate(220.7,308.7) scale(0.5)" font-size="32" fill="#d8803e" stroke="#d8803e" stroke-width="1.3" textLength="133.0" lengthAdjust="spacingAndGlyphs">GPIO 16</text>
</svg></body></html>
